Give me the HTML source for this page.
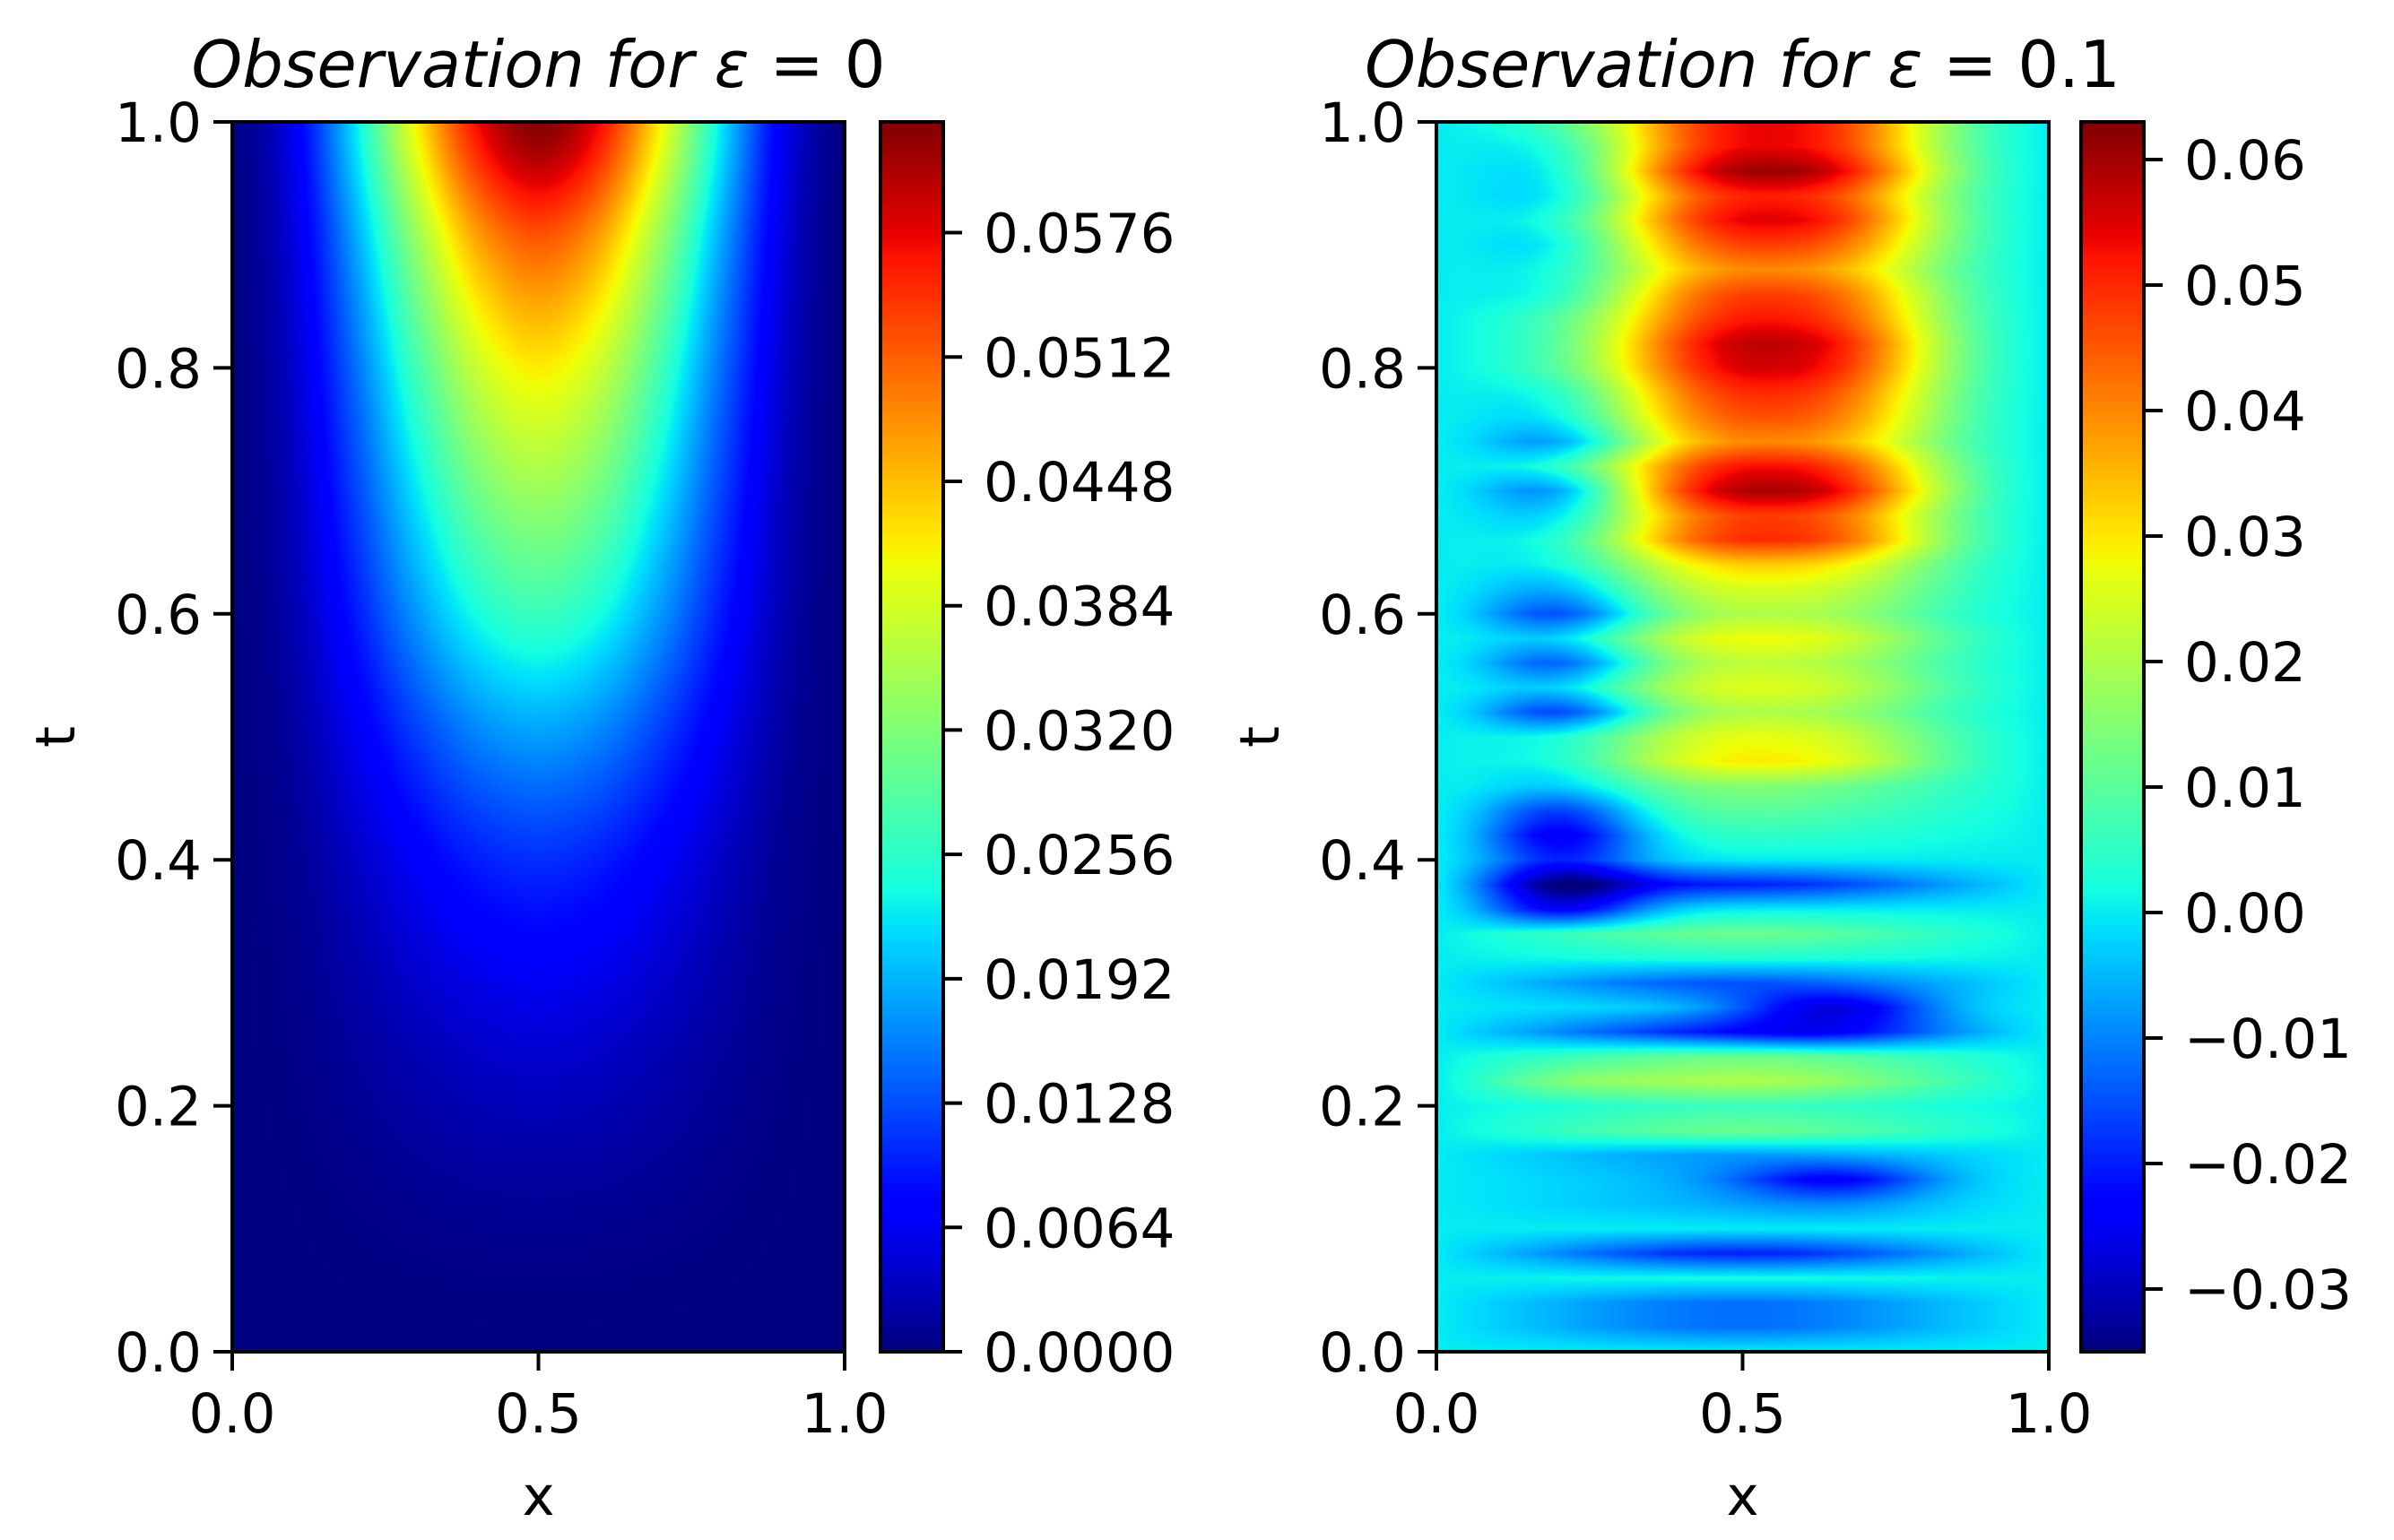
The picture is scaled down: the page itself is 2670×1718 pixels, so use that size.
<!DOCTYPE html>
<html><head><meta charset="utf-8">
<style>
html,body{margin:0;padding:0;background:#fff;}
#root{position:relative;width:2670px;height:1718px;overflow:hidden;background:#fff;font-family:"DejaVu Sans","Liberation Sans",sans-serif;}
canvas{position:absolute;}
svg{position:absolute;left:0;top:0;}
</style></head>
<body>
<div id="root">
<canvas id="hmL" style="left:259px;top:136px" width="683" height="1372"></canvas>
<canvas id="cbL" style="left:982px;top:136px" width="70" height="1372"></canvas>
<canvas id="hmR" style="left:1602px;top:136px" width="683" height="1372"></canvas>
<canvas id="cbR" style="left:2321px;top:136px" width="70" height="1372"></canvas>
<svg id="ov" width="2670" height="1718"></svg>
</div>
<script>
// ---- data: left panel (separable field, eps = 0) ----
const leftXs = [0,0.1,0.2,0.3,0.4,0.5,0.6,0.7,0.8,0.9,1.0];
const leftXProfile = [0,0.10,0.35,0.65,0.90,1.0,0.90,0.65,0.35,0.10,0];
const leftTs = [0,0.1,0.2,0.3,0.4,0.5,0.6,0.7,0.8,0.9,1.0];
const leftTProfile = [0,0.015,0.05,0.10,0.17,0.28,0.42,0.54,0.66,0.81,1.0];
const leftPeak = 0.0632;
const leftRange = [0, 0.0633];
const leftCbTicks = [0.0000,0.0064,0.0128,0.0192,0.0256,0.0320,0.0384,0.0448,0.0512,0.0576];
const leftCbLabels = ["0.0000","0.0064","0.0128","0.0192","0.0256","0.0320","0.0384","0.0448","0.0512","0.0576"];
// ---- data: right panel (noisy, eps = 0.1), rows at t = 0,0.02,...,1 ----
const rightCenterAmp = [0,0,0,0,0,0,0,0,0,0,0,0,0,0,0,0,0,0,0,0,0,0,0,0,0.018,0.015,0.012,0.014,0.012,0.016,0.015,0.017,0.025,0.042,0.040,0.052,0.045,0.032,0.038,0.042,0.048,0.050,0.044,0.040,0.032,0.040,0.049,0.045,0.055,0.048,0.048];
const rightLeftAmp = [0,0,0,0,0,0,0,0,0,0,0,0.005,0,0,0,0,0,0,-0.025,-0.028,-0.020,-0.028,-0.022,-0.010,-0.005,-0.005,-0.022,-0.010,-0.020,-0.010,-0.020,-0.012,-0.005,-0.005,-0.010,-0.018,-0.005,-0.015,-0.008,-0.005,0,0,0,-0.005,-0.005,-0.008,-0.005,-0.008,-0.008,-0.005,0];
const rightBroadAmp = [0,-0.012,-0.012,0.002,-0.020,0,-0.005,-0.005,-0.008,0.012,0.006,0.020,0.012,-0.020,-0.003,-0.015,0.003,0.012,0,-0.020,0,0.005,0.010,0.015,0.012,0.012,0.008,0.012,0.010,0.012,0.005,0.008,0.008,0.008,0.008,0.008,0.008,0.008,0.008,0.008,0.008,0.008,0.008,0.008,0.008,0.008,0.006,0.006,0.006,0.006,0.006];
const rightRightAmp = [0,0,0,0,0,0,-0.005,-0.020,0,0,0,0,0,-0.008,-0.025,0,0,0,0,0,0,0,0,0,0,0,0,0,0,0,0,0,0,0,0,0,0,0,0,0,0,0,0,0,0,0,0,0,0,0,0];
const rightRange = [-0.035, 0.063];
const rightCbTicks = [-0.03,-0.02,-0.01,0.00,0.01,0.02,0.03,0.04,0.05,0.06];
const rightCbLabels = ["\u22120.03","\u22120.02","\u22120.01","0.00","0.01","0.02","0.03","0.04","0.05","0.06"];
const axisTicks = [0,0.2,0.4,0.6,0.8,1.0];
const axisTickLabels = ["0.0","0.2","0.4","0.6","0.8","1.0"];
const xTicks = [0,0.5,1.0];
const xTickLabels = ["0.0","0.5","1.0"];

function interp(x, xs, ys){
  if (x<=xs[0]) return ys[0];
  for (let i=1;i<xs.length;i++){ if (x<=xs[i]){ const f=(x-xs[i-1])/(xs[i]-xs[i-1]); return ys[i-1]+f*(ys[i]-ys[i-1]); } }
  return ys[ys.length-1];
}
function cubic(x, xs, ys){
  const n=xs.length;
  if (x<=xs[0]) return ys[0];
  if (x>=xs[n-1]) return ys[n-1];
  let i=1; while (x>xs[i]) i++;
  const f=(x-xs[i-1])/(xs[i]-xs[i-1]);
  const p0=ys[Math.max(0,i-2)], p1=ys[i-1], p2=ys[i], p3=ys[Math.min(n-1,i+1)];
  const v=0.5*((2*p1)+(-p0+p2)*f+(2*p0-5*p1+4*p2-p3)*f*f+(-p0+3*p1-3*p2+p3)*f*f*f);
  return Math.max(0,v);
}
function seg(v, pts){ return interp(v, pts.map(p=>p[0]), pts.map(p=>p[1])); }
function jet(v){
  v=Math.max(0,Math.min(1,v));
  const r=seg(v,[[0,0],[0.35,0],[0.66,1],[0.89,1],[1,0.5]]);
  const g=seg(v,[[0,0],[0.125,0],[0.375,1],[0.64,1],[0.91,0],[1,0]]);
  const b=seg(v,[[0,0.5],[0.11,1],[0.34,1],[0.65,0],[1,0]]);
  return [r*255,g*255,b*255];
}
function drawField(id, fn, range){
  const c=document.getElementById(id), ctx=c.getContext('2d');
  const W=c.width,H=c.height, img=ctx.createImageData(W,H);
  for (let j=0;j<H;j++){ const t=1-(j+0.5)/H;
    for (let i=0;i<W;i++){ const x=(i+0.5)/W;
      const v=(fn(x,t)-range[0])/(range[1]-range[0]);
      const col=jet(v), k=(j*W+i)*4;
      img.data[k]=col[0];img.data[k+1]=col[1];img.data[k+2]=col[2];img.data[k+3]=255; } }
  ctx.putImageData(img,0,0);
}
function drawCbar(id){
  const c=document.getElementById(id), ctx=c.getContext('2d');
  for (let j=0;j<c.height;j++){ const col=jet(1-(j+0.5)/c.height);
    ctx.fillStyle=`rgb(${col[0]|0},${col[1]|0},${col[2]|0})`; ctx.fillRect(0,j,c.width,1); }
}
const tRows = rightCenterAmp.map((_,i)=>i*0.02);
function rightField(x,t){
  const A=interp(t,tRows,rightCenterAmp), B=interp(t,tRows,rightLeftAmp),
        C=interp(t,tRows,rightBroadAmp), D=interp(t,tRows,rightRightAmp);
  const gc=Math.exp(-Math.pow(Math.abs(x-0.55)/0.27,2.5));
  const gl=Math.exp(-Math.pow((x-0.2)/0.14,2));
  const gb=Math.exp(-Math.pow((x-0.5)/0.36,2));
  const gr=Math.exp(-Math.pow((x-0.65)/0.17,2));
  const taper=(1-Math.exp(-x/0.06))*(1-Math.exp(-(1-x)/0.06));
  return taper*(A*gc+B*gl+C*gb+D*gr);
}
function leftField(x,t){ return leftPeak*cubic(x,leftXs,leftXProfile)*cubic(t,leftTs,leftTProfile); }
drawField('hmL', leftField, leftRange);
drawField('hmR', rightField, rightRange);
drawCbar('cbL');
drawCbar('cbR');

const NS='http://www.w3.org/2000/svg', ov=document.getElementById('ov');
function el(tag, attrs, text, parent){ const e=document.createElementNS(NS,tag); for(const k in attrs) e.setAttribute(k,attrs[k]); if(text!==undefined) e.textContent=text; (parent||ov).appendChild(e); return e; }
const TOP=136, BOT=1508;
function panel(L, R, cbL, cbR, titleMain, titleEnd, yLabelX, cbTicks, cbLabels, cbRange, prefix){
  const ax=el('rect',{x:L,y:TOP,width:R-L,height:BOT-TOP,fill:'none',stroke:'#000','stroke-width':4});
  
  
  const cb=el('rect',{x:cbL,y:TOP,width:cbR-cbL,height:BOT-TOP,fill:'none',stroke:'#000','stroke-width':4});
  
  
  axisTicks.forEach((v,i)=>{ const y=BOT-v*(BOT-TOP);
    const tk=el('line',{x1:L-21,x2:L,y1:y,y2:y,stroke:'#000','stroke-width':4});
    
    
    const tl=el('text',{x:L-34,y:y+22,'text-anchor':'end','font-size':61},axisTickLabels[i]);
    
     });
  xTicks.forEach((v,i)=>{ const x=L+v*(R-L);
    const tk=el('line',{x1:x,x2:x,y1:BOT,y2:BOT+21,stroke:'#000','stroke-width':4});
    
    
    const tl=el('text',{x:x,y:1598,'text-anchor':'middle','font-size':61},xTickLabels[i]);
    
     });
  cbTicks.forEach((v,i)=>{ const y=BOT-(v-cbRange[0])/(cbRange[1]-cbRange[0])*(BOT-TOP);
    const tk=el('line',{x1:cbR,x2:cbR+21,y1:y,y2:y,stroke:'#000','stroke-width':4});
    
    
    const tl=el('text',{x:cbR+45,y:y+22,'text-anchor':'start','font-size':61},cbLabels[i]);
    
     });
  const xl=el('text',{x:(L+R)/2,y:1690,'text-anchor':'middle','font-size':61},'x');
  
  
  const yl=el('text',{x:yLabelX,y:(TOP+BOT)/2,'text-anchor':'middle','font-size':61,transform:`rotate(-90 ${yLabelX} ${(TOP+BOT)/2})`},'t');
  
  
  const tt=el('text',{x:(L+R)/2,y:97,'text-anchor':'middle','font-size':72,'font-style':'italic'});
  
  
  el('tspan',{},titleMain,tt);
  el('tspan',{'font-style':'normal'},titleEnd,tt);
}
panel(259,942,982,1052,'Observation for \u03b5',' = 0',83,leftCbTicks,leftCbLabels,leftRange,'left');
panel(1602,2285,2321,2391,'Observation for \u03b5',' = 0.1',1426,rightCbTicks,rightCbLabels,rightRange,'right');
</script>
</body></html>
